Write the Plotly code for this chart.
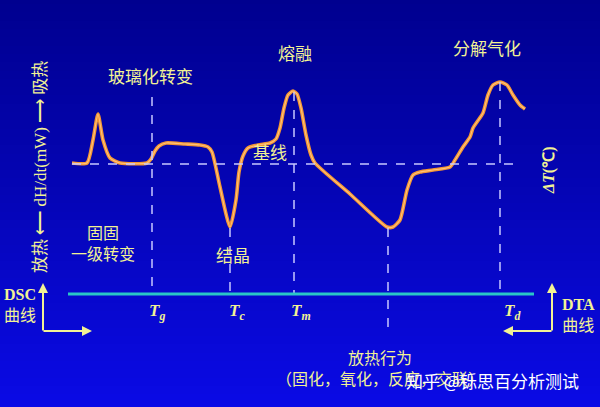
import plotly.graph_objects as go
import numpy as np

# DSC / DTA schematic (x = temperature, y = signal, screen-like units)
curve_x = [72, 87, 93, 98, 103, 110, 120, 147, 151, 155, 159, 166, 185, 200, 208, 212, 220, 230,
           236, 239, 243, 248, 258, 270, 276, 280, 284, 288, 293, 297, 301, 306, 311, 315, 350,
           387, 393, 400, 407, 413, 420, 433, 450, 455, 463, 470, 473, 477, 483, 488, 493, 500,
           507, 513, 520, 525]
curve_y = [163, 163, 140, 114, 140, 158, 163, 163, 159, 151, 146, 143, 144, 145, 147, 152, 187, 227,
           200, 172, 156, 148, 145, 143, 139, 128, 108, 95, 91, 94, 108, 135, 155, 163, 194,
           227, 227, 220, 190, 175, 172, 170, 167, 160, 147, 137, 128, 122, 113, 95, 85, 82,
           85, 95, 105, 109]

baseline_y = 164
baseline_span = [72, 522]
axis_y = 294
axis_span = [68, 534]

event_x = [152, 230, 294, 500, 388]
event_top = [97, 228, 92, 82, 228]
event_bottom = [295, 295, 295, 293, 327]

temp_labels = ["<i><b>T</b></i><sub><i><b>g</b></i></sub>", "<i><b>T</b></i><sub><i><b>c</b></i></sub>",
               "<i><b>T</b></i><sub><i><b>m</b></i></sub>", "<i><b>T</b></i><sub><i><b>d</b></i></sub>"]
temp_label_x = [157, 237, 301, 512]

YEL = "#f2f294"
fig = go.Figure()

# gradient background
gy = np.linspace(0, 407, 50)
fig.add_trace(go.Heatmap(x=[0, 600], y=gy, z=[[v, v] for v in gy],
                         colorscale=[[0, "#00008f"], [0.5, "#0505b8"], [1, "#0a0ae6"]],
                         showscale=False, hoverinfo="skip"))

# dashed guides
fig.add_shape(type="line", x0=baseline_span[0], x1=baseline_span[1], y0=baseline_y, y1=baseline_y,
              line=dict(color="#c8c8ff", width=1.5, dash="dash"))
for ex, t, b in zip(event_x, event_top, event_bottom):
    fig.add_shape(type="line", x0=ex, x1=ex, y0=t, y1=b,
                  line=dict(color="#c8c8ff", width=1.5, dash="dash"))

# temperature axis line
fig.add_shape(type="line", x0=axis_span[0], x1=axis_span[1], y0=axis_y, y1=axis_y,
              line=dict(color="#2ac6c6", width=3))

# curve
fig.add_trace(go.Scatter(x=curve_x, y=curve_y, mode="lines",
                         line=dict(color="#f39634", width=3.6, shape="spline", smoothing=0.6),
                         hoverinfo="skip"))
fig.add_trace(go.Scatter(x=curve_x, y=curve_y, mode="lines",
                         line=dict(color="#ffc27a", width=1.1, shape="spline", smoothing=0.6),
                         hoverinfo="skip"))

cjk = "Noto Sans CJK SC"
serif = "Liberation Serif"

def txt(x, y, s, size=17, font=cjk, color=YEL, angle=0):
    fig.add_annotation(x=x, y=y, text=s, showarrow=False, textangle=angle,
                       font=dict(family=font, size=size, color=color))

txt(150, 75, "玻璃化转变")
txt(295, 52, "熔融")
txt(487, 47, "分解气化")
txt(270, 151, "基线")
txt(103, 242, "固固<br>一级转变", size=16)
txt(233, 254, "结晶")
txt(380, 367, "放热行为<br>（固化，氧化，反应，交联）", size=16)

for s, lx in zip(temp_labels, temp_label_x):
    txt(lx, 312, s, size=17, font=serif)

txt(20, 305, "<b>DSC</b><br>曲线", size=16, font=serif + ", " + cjk)
txt(578, 315, "<b>DTA</b><br>曲线", size=16, font=serif + ", " + cjk)

txt(40, 167, "放热 ⟵ dH/dt(mW) ⟶ 吸热", size=17, font=serif + ", " + cjk, angle=-90)
txt(549, 171, "<b><i>ΔT</i>(℃)</b>", size=16, font=serif, angle=-90)

# corner arrows
def arrow(x0, y0, x1, y1):
    fig.add_annotation(x=x1, y=y1, ax=x0, ay=y0, xref="x", yref="y", axref="x", ayref="y",
                       text="", showarrow=True, arrowhead=2, arrowsize=1, arrowwidth=2,
                       arrowcolor=YEL)

arrow(43, 332, 43, 283)
arrow(42, 331, 92, 331)
arrow(552, 332, 552, 283)
arrow(553, 331, 503, 331)

# watermark
txt(492, 380, "知乎 @铄思百分析测试", size=17, color="white")

fig.update_layout(width=600, height=407, margin=dict(l=0, r=0, t=0, b=0),
                  showlegend=False, plot_bgcolor="#0505b8", paper_bgcolor="#0505b8",
                  xaxis=dict(range=[0, 600], visible=False, fixedrange=True),
                  yaxis=dict(range=[407, 0], visible=False, fixedrange=True))
fig.write_html("out.html", config={"displayModeBar": False},
               post_script="document.body.style.margin='0';document.body.style.overflow='hidden';")
